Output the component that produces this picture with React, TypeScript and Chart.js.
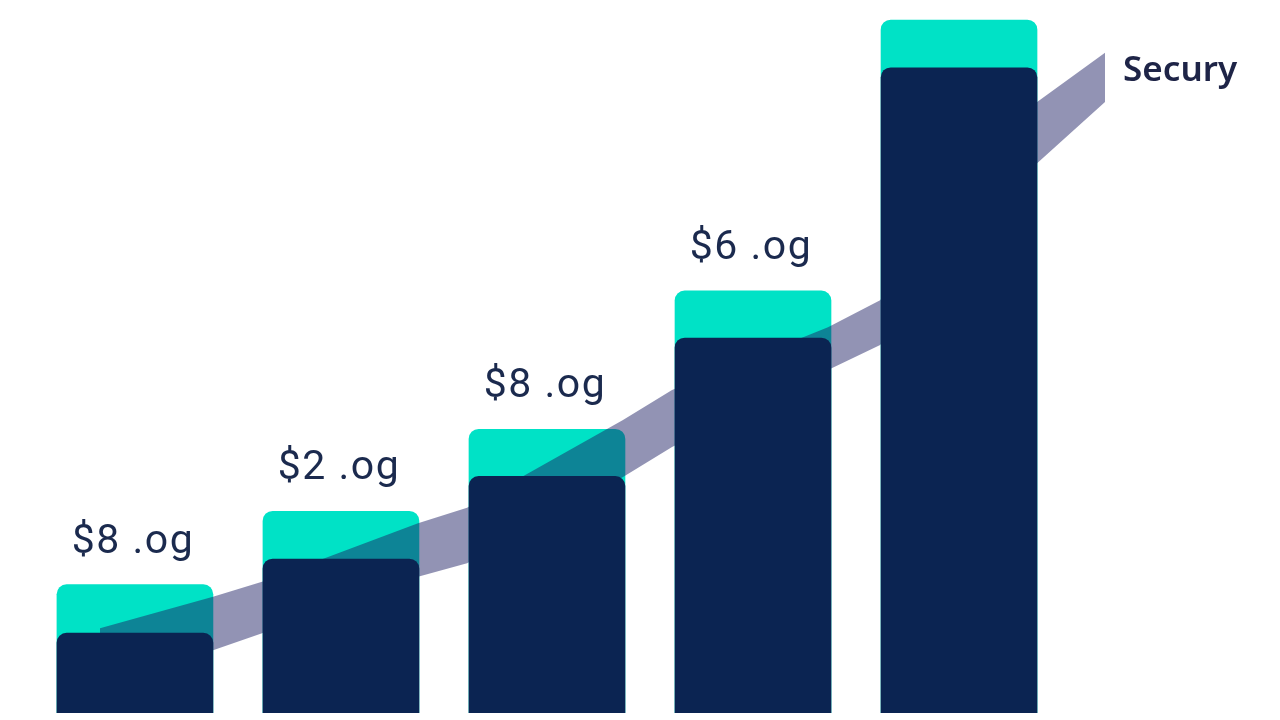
import React, { useEffect, useRef } from "react";
import { Chart, registerables } from "chart.js";

Chart.register(...registerables);

// Bar positions (index) and values (percent of plot height)
const categories = [0, 1, 2, 3, 4];
const tealTops = [18.0, 28.3, 39.8, 59.2, 97.2];
const navyTops = [11.2, 21.6, 33.2, 52.6, 90.5];
const barLabels = ["$8 .og", "$2 .og", "$8 .og", "$6 .og", "$9 .og"];

// Trend band (upper / lower edges)
const bandX = [-0.17, 0.379, 0.617, 1.374, 1.612, 2.369, 2.607, 3.364, 3.617, 4.379, 4.709];
const bandUpper = [11.9, 16.3, 18.4, 26.6, 28.8, 41.1, 45.3, 54.1, 57.9, 85.7, 92.6];
const bandLower = [5.8, 8.8, 11.2, 19.1, 21.0, 33.1, 37.3, 48.1, 51.6, 77.1, 85.7];
const bandLabel = "Secury";

const NAVY = "#0b2452";
const TEAL = "#00e2c6";
const BAND = "rgba(28,30,98,0.48)";

const labelPlugin = {
  id: "labelPlugin",
  afterDatasetsDraw(chart: any) {
    const ctx = chart.ctx;
    const tealMeta = chart.getDatasetMeta(3);
    ctx.save();
    ctx.fillStyle = "#1b2a4e";
    ctx.font = "41px Roboto";
    (ctx as any).letterSpacing = "1.5px";
    ctx.textAlign = "center";
    ctx.textBaseline = "middle";
    tealMeta.data.forEach((bar: any, i: number) => {
      ctx.fillText(barLabels[i], bar.x - 2, bar.y - 42);
    });
    (ctx as any).letterSpacing = "0px";
    const upMeta = chart.getDatasetMeta(1);
    const last = upMeta.data[upMeta.data.length - 1];
    ctx.font = "600 35px 'Noto Sans'";
    ctx.fillStyle = "#1e2447";
    ctx.textAlign = "left";
    ctx.fillText(bandLabel, last.x + 18, last.y + 18);
    ctx.restore();
  },
};

export default function App() {
  const ref = useRef<HTMLCanvasElement | null>(null);
  useEffect(() => {
    if (!ref.current) return;
    const chart = new Chart(ref.current, {
      type: "bar",
      data: {
        datasets: [
          {
            type: "bar",
            label: "navy",
            data: categories.map((c, i) => ({ x: c, y: navyTops[i] })),
            backgroundColor: NAVY,
            barThickness: 156,
            borderRadius: 10,
            grouped: false,
            order: 1,
          } as any,
          {
            type: "line",
            label: "bandUpper",
            data: bandX.map((x, i) => ({ x, y: bandUpper[i] })),
            borderWidth: 0,
            pointRadius: 0,
            backgroundColor: BAND,
            borderColor: "rgba(0,0,0,0)",
            fill: "+1",
            tension: 0,
            order: 2,
          },
          {
            type: "line",
            label: "bandLower",
            data: bandX.map((x, i) => ({ x, y: bandLower[i] })),
            borderWidth: 0,
            pointRadius: 0,
            borderColor: "rgba(0,0,0,0)",
            fill: false,
            tension: 0,
            order: 3,
          },
          {
            type: "bar",
            label: "teal",
            data: categories.map((c, i) => ({ x: c, y: tealTops[i] })),
            backgroundColor: TEAL,
            barThickness: 156,
            borderRadius: 10,
            grouped: false,
            order: 4,
          } as any,
        ],
      },
      options: {
        animation: false,
        responsive: true,
        maintainAspectRatio: false,
        layout: { padding: { left: 0, right: 0, top: 0, bottom: 7 } },
        plugins: { legend: { display: false }, tooltip: { enabled: false } },
        scales: {
          x: { type: "linear", min: -0.655, max: 5.558, offset: false, display: false },
          y: { min: 0, max: 100, display: false },
        },
      },
      plugins: [labelPlugin],
    });
    return () => chart.destroy();
  }, []);
  return (
    <div style={{ position: "fixed", left: 0, top: 0, width: 1280, height: 720, background: "#ffffff" }}>
      <canvas ref={ref} />
    </div>
  );
}
